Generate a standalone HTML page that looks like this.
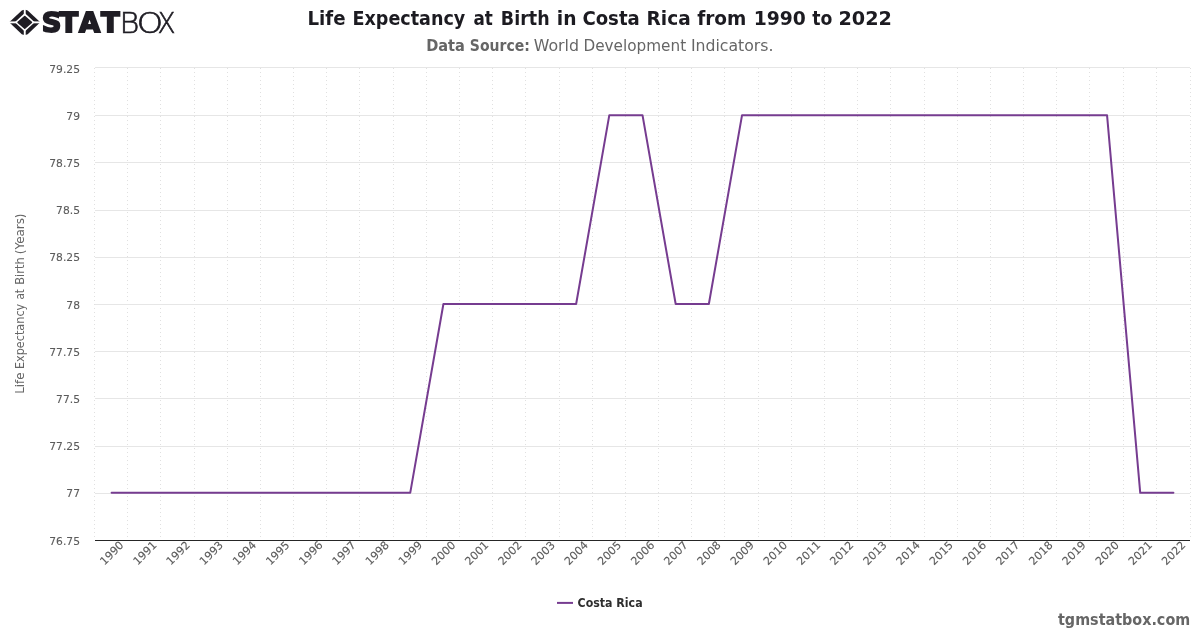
<!DOCTYPE html>
<html lang="en"><head><meta charset="utf-8"><title>Life Expectancy at Birth in Costa Rica from 1990 to 2022</title>
<style>html,body{margin:0;padding:0;background:#fff}body{width:1200px;height:630px;overflow:hidden}svg{display:block}text{font-family:"DejaVu Sans","Liberation Sans",sans-serif}text.lt{font-family:"DejaVu Sans Light","DejaVu Sans","Liberation Sans",sans-serif}</style></head><body>
<svg width="1200" height="630" viewBox="0 0 1200 630">
<rect width="1200" height="630" fill="#ffffff"/>
<g stroke="#e0e0e0" stroke-width="1" stroke-dasharray="1,3" fill="none">
<path d="M94.5 68V540"/>
<path d="M127.5 68V540"/>
<path d="M160.5 68V540"/>
<path d="M194.5 68V540"/>
<path d="M227.5 68V540"/>
<path d="M260.5 68V540"/>
<path d="M293.5 68V540"/>
<path d="M326.5 68V540"/>
<path d="M359.5 68V540"/>
<path d="M393.5 68V540"/>
<path d="M426.5 68V540"/>
<path d="M459.5 68V540"/>
<path d="M492.5 68V540"/>
<path d="M525.5 68V540"/>
<path d="M559.5 68V540"/>
<path d="M592.5 68V540"/>
<path d="M625.5 68V540"/>
<path d="M658.5 68V540"/>
<path d="M691.5 68V540"/>
<path d="M724.5 68V540"/>
<path d="M758.5 68V540"/>
<path d="M791.5 68V540"/>
<path d="M824.5 68V540"/>
<path d="M857.5 68V540"/>
<path d="M890.5 68V540"/>
<path d="M924.5 68V540"/>
<path d="M957.5 68V540"/>
<path d="M990.5 68V540"/>
<path d="M1023.5 68V540"/>
<path d="M1056.5 68V540"/>
<path d="M1089.5 68V540"/>
<path d="M1123.5 68V540"/>
<path d="M1156.5 68V540"/>
<path d="M1190.5 68V540"/>
</g>
<g stroke="#e6e6e6" stroke-width="1" fill="none">
<path d="M95 67.5H1190"/>
<path d="M95 115.5H1190"/>
<path d="M95 162.5H1190"/>
<path d="M95 210.5H1190"/>
<path d="M95 257.5H1190"/>
<path d="M95 304.5H1190"/>
<path d="M95 351.5H1190"/>
<path d="M95 398.5H1190"/>
<path d="M95 446.5H1190"/>
<path d="M95 493.5H1190"/>
</g>
<path d="M95 540.5H1190" stroke="#262626" stroke-width="1" fill="none"/>
<path d="M111.59 492.80L144.77 492.80L177.95 492.80L211.14 492.80L244.32 492.80L277.50 492.80L310.68 492.80L343.86 492.80L377.05 492.80L410.23 492.80L443.41 304.00L476.59 304.00L509.77 304.00L542.95 304.00L576.14 304.00L609.32 115.20L642.50 115.20L675.68 304.00L708.86 304.00L742.05 115.20L775.23 115.20L808.41 115.20L841.59 115.20L874.77 115.20L907.95 115.20L941.14 115.20L974.32 115.20L1007.50 115.20L1040.68 115.20L1073.86 115.20L1107.05 115.20L1140.23 492.80L1173.41 492.80" fill="none" stroke="#763c90" stroke-width="2" stroke-linejoin="round" stroke-linecap="round"/>
<g font-size="11" fill="#5c5c5c" stroke="#5c5c5c" stroke-width="0.12" text-anchor="end">
<text transform="translate(80 73) scale(0.975 1)">79.25</text>
<text transform="translate(80 120) scale(0.975 1)">79</text>
<text transform="translate(80 167) scale(0.975 1)">78.75</text>
<text transform="translate(80 214) scale(0.975 1)">78.5</text>
<text transform="translate(80 261) scale(0.975 1)">78.25</text>
<text transform="translate(80 309) scale(0.975 1)">78</text>
<text transform="translate(80 356) scale(0.975 1)">77.75</text>
<text transform="translate(80 403) scale(0.975 1)">77.5</text>
<text transform="translate(80 450) scale(0.975 1)">77.25</text>
<text transform="translate(80 497) scale(0.975 1)">77</text>
<text transform="translate(80 545) scale(0.975 1)">76.75</text>
</g>
<g font-size="11" fill="#5c5c5c" stroke="#5c5c5c" stroke-width="0.12" text-anchor="end">
<text x="124.29" y="545.9" transform="rotate(-45 124.29 545.9)">1990</text>
<text x="157.47" y="545.9" transform="rotate(-45 157.47 545.9)">1991</text>
<text x="190.65" y="545.9" transform="rotate(-45 190.65 545.9)">1992</text>
<text x="223.84" y="545.9" transform="rotate(-45 223.84 545.9)">1993</text>
<text x="257.02" y="545.9" transform="rotate(-45 257.02 545.9)">1994</text>
<text x="290.20" y="545.9" transform="rotate(-45 290.20 545.9)">1995</text>
<text x="323.38" y="545.9" transform="rotate(-45 323.38 545.9)">1996</text>
<text x="356.56" y="545.9" transform="rotate(-45 356.56 545.9)">1997</text>
<text x="389.75" y="545.9" transform="rotate(-45 389.75 545.9)">1998</text>
<text x="422.93" y="545.9" transform="rotate(-45 422.93 545.9)">1999</text>
<text x="456.11" y="545.9" transform="rotate(-45 456.11 545.9)">2000</text>
<text x="489.29" y="545.9" transform="rotate(-45 489.29 545.9)">2001</text>
<text x="522.47" y="545.9" transform="rotate(-45 522.47 545.9)">2002</text>
<text x="555.65" y="545.9" transform="rotate(-45 555.65 545.9)">2003</text>
<text x="588.84" y="545.9" transform="rotate(-45 588.84 545.9)">2004</text>
<text x="622.02" y="545.9" transform="rotate(-45 622.02 545.9)">2005</text>
<text x="655.20" y="545.9" transform="rotate(-45 655.20 545.9)">2006</text>
<text x="688.38" y="545.9" transform="rotate(-45 688.38 545.9)">2007</text>
<text x="721.56" y="545.9" transform="rotate(-45 721.56 545.9)">2008</text>
<text x="754.75" y="545.9" transform="rotate(-45 754.75 545.9)">2009</text>
<text x="787.93" y="545.9" transform="rotate(-45 787.93 545.9)">2010</text>
<text x="821.11" y="545.9" transform="rotate(-45 821.11 545.9)">2011</text>
<text x="854.29" y="545.9" transform="rotate(-45 854.29 545.9)">2012</text>
<text x="887.47" y="545.9" transform="rotate(-45 887.47 545.9)">2013</text>
<text x="920.65" y="545.9" transform="rotate(-45 920.65 545.9)">2014</text>
<text x="953.84" y="545.9" transform="rotate(-45 953.84 545.9)">2015</text>
<text x="987.02" y="545.9" transform="rotate(-45 987.02 545.9)">2016</text>
<text x="1020.20" y="545.9" transform="rotate(-45 1020.20 545.9)">2017</text>
<text x="1053.38" y="545.9" transform="rotate(-45 1053.38 545.9)">2018</text>
<text x="1086.56" y="545.9" transform="rotate(-45 1086.56 545.9)">2019</text>
<text x="1119.75" y="545.9" transform="rotate(-45 1119.75 545.9)">2020</text>
<text x="1152.93" y="545.9" transform="rotate(-45 1152.93 545.9)">2021</text>
<text x="1186.11" y="545.9" transform="rotate(-45 1186.11 545.9)">2022</text>
</g>
<text y="0" font-size="12.3" fill="#666666" transform="translate(24.3 400) rotate(-90)"><tspan x="6.2" textLength="21.35" lengthAdjust="spacingAndGlyphs">Life</tspan> <tspan x="30.96" textLength="65.29" lengthAdjust="spacingAndGlyphs">Expectancy</tspan> <tspan x="100.47" textLength="10.44" lengthAdjust="spacingAndGlyphs">at</tspan> <tspan x="115.13" textLength="27.53" lengthAdjust="spacingAndGlyphs">Birth</tspan> <tspan x="145.81" textLength="40.7" lengthAdjust="spacingAndGlyphs">(Years)</tspan></text>
<text y="24.7" font-size="20" font-weight="bold" fill="#1c1b21"><tspan x="307.49" textLength="38.12" lengthAdjust="spacingAndGlyphs">Life</tspan> <tspan x="352.55" textLength="112.77" lengthAdjust="spacingAndGlyphs">Expectancy</tspan> <tspan x="473.46" textLength="19.4" lengthAdjust="spacingAndGlyphs">at</tspan> <tspan x="500.86" textLength="48.76" lengthAdjust="spacingAndGlyphs">Birth</tspan> <tspan x="556.78" textLength="19.71" lengthAdjust="spacingAndGlyphs">in</tspan> <tspan x="582.39" textLength="57.39" lengthAdjust="spacingAndGlyphs">Costa</tspan> <tspan x="646.56" textLength="44.13" lengthAdjust="spacingAndGlyphs">Rica</tspan> <tspan x="697.15" textLength="49.27" lengthAdjust="spacingAndGlyphs">from</tspan> <tspan x="753.69" textLength="52.17" lengthAdjust="spacingAndGlyphs">1990</tspan> <tspan x="812.28" textLength="20.12" lengthAdjust="spacingAndGlyphs">to</tspan> <tspan x="838.44" textLength="53.49" lengthAdjust="spacingAndGlyphs">2022</tspan></text>
<text y="50.8" font-size="16" fill="#666666"><tspan font-weight="bold"><tspan x="426.13" textLength="38.73" lengthAdjust="spacingAndGlyphs">Data</tspan> <tspan x="469.81" textLength="60.05" lengthAdjust="spacingAndGlyphs">Source:</tspan></tspan> <tspan x="533.71" textLength="45.26" lengthAdjust="spacingAndGlyphs">World</tspan> <tspan x="583.45" textLength="102.68" lengthAdjust="spacingAndGlyphs">Development</tspan> <tspan x="690.91" textLength="82.51" lengthAdjust="spacingAndGlyphs">Indicators.</tspan></text>
<path d="M557 602.9H573" stroke="#763c90" stroke-width="2" fill="none"/>
<text x="577.6" y="606.7" font-size="12" font-weight="bold" fill="#2e2e2e" textLength="65" lengthAdjust="spacingAndGlyphs">Costa Rica</text>
<text x="1058" y="624.6" font-size="16" font-weight="bold" fill="#666666" textLength="132.2" lengthAdjust="spacingAndGlyphs">tgmstatbox.com</text>
<g id="logo">
<path d="M9.2 22.35L21.8 10.4Q24.75 8.9 27.7 10.4L40.3 22.35L27.7 34.3Q24.75 35.8 21.8 34.3Z" fill="#1f1d24"/>
<path d="M14.8 22.35L24.75 13.1L34.7 22.35L24.75 31.6Z" fill="#ffffff"/>
<rect x="23.8" y="8" width="1.9" height="29" fill="#ffffff"/>
<rect x="9" y="21.4" width="32" height="1.9" fill="#ffffff"/>
<path d="M18.1 22.35L24.75 16.6L31.4 22.35L24.75 28.1Z" fill="#1f1d24" stroke="#1f1d24" stroke-width="1.6" stroke-linejoin="round"/>
<text transform="translate(0 32.1) scale(1.015 1)" x="41.17 58.68 77.87 99.47" y="0" font-size="26.9" font-weight="bold" fill="#1f1d24" stroke="#1f1d24" stroke-width="1.8" stroke-linejoin="miter">STAT</text>
<text y="32.8" font-size="28.3" class="lt" font-weight="200" fill="#1f1d24" stroke="#1f1d24" stroke-width="0.6"><tspan x="119.64" textLength="19.91" lengthAdjust="spacingAndGlyphs">B</tspan><tspan x="136.84" textLength="26.36" lengthAdjust="spacingAndGlyphs">O</tspan><tspan x="157.57" textLength="18.06" lengthAdjust="spacingAndGlyphs">X</tspan></text>
</g>
</svg></body></html>
